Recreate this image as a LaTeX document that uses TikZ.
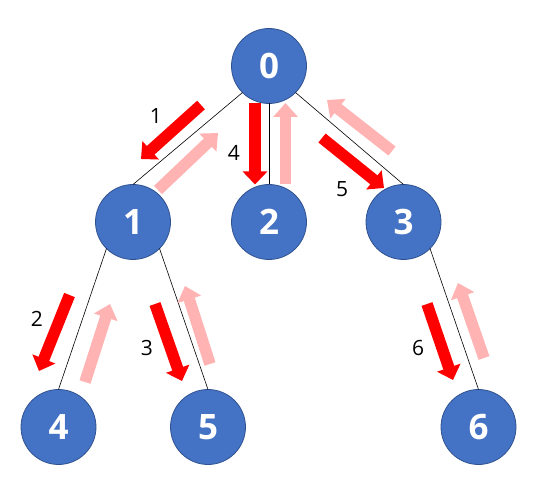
\documentclass[tikz,border=0pt]{standalone}
\usepackage{fontspec}
\setmainfont{Open Sans}
\usetikzlibrary{arrows.meta}
\definecolor{nodeblue}{HTML}{4472C4}
\definecolor{nodeedge}{HTML}{2F528F}
\definecolor{downred}{HTML}{FF0000}
\definecolor{uppink}{HTML}{FFB3B3}
\tikzset{
  treenode/.style={circle, fill=nodeblue, draw=nodeedge, line width=0.8pt, minimum size=75pt, inner sep=0pt, outer sep=0pt, text=white, font=\fontsize{35}{35}\selectfont\bfseries},
  edge/.style={draw=black, line width=0.6pt},
  downarrow/.style={draw=downred, line width=11.5pt, -{Triangle[width=24pt,length=13pt]}},
  uparrow/.style={draw=uppink, line width=11.5pt, -{Triangle[width=24pt,length=14pt]}},
  steplabel/.style={font=\fontsize{21}{21}\selectfont, text=black, inner sep=0pt}
}
\begin{document}
\begin{tikzpicture}[x=1pt,y=-1pt]
\useasboundingbox (0,0) rectangle (538,502);
% nodes
\node[treenode] (n0) at (269,66) {0};
\node[treenode] (n1) at (133,222) {1};
\node[treenode] (n2) at (269,222) {2};
\node[treenode] (n3) at (403.5,222) {3};
\node[treenode] (n4) at (58.5,427) {4};
\node[treenode] (n5) at (208,427) {5};
\node[treenode] (n6) at (478.5,427) {6};
% edges
\draw[edge] (n0.south west) -- (n1.north);
\draw[edge] (n0.south) -- (n2.north);
\draw[edge] (n0.south east) -- (n3.north);
\draw[edge] (n1.south west) -- (n4.north);
\draw[edge] (n1.south east) -- (n5.north);
\draw[edge] (n3.south east) -- (n6.north);
% arrow end coordinates
\coordinate (a1s) at (201,105);
\coordinate (a1e) at (141,159);
\coordinate (b1s) at (158,190);
\coordinate (b1e) at (218,133);
\coordinate (a4s) at (255,103);
\coordinate (a4e) at (255,184.5);
\coordinate (b4s) at (285.5,184.5);
\coordinate (b4e) at (285.5,103);
\coordinate (a5s) at (322,138);
\coordinate (a5e) at (384,188);
\coordinate (b5s) at (392,151);
\coordinate (b5e) at (327,100);
\coordinate (a2s) at (69.5,295);
\coordinate (a2e) at (39,371);
\coordinate (b2s) at (85,382);
\coordinate (b2e) at (110,304);
\coordinate (a3s) at (155,304);
\coordinate (a3e) at (182,381);
\coordinate (b3s) at (210,364);
\coordinate (b3e) at (185,286);
\coordinate (a6s) at (427,304);
\coordinate (a6e) at (453,380);
\coordinate (b6s) at (484,358);
\coordinate (b6e) at (458,283);
% arrows
\draw[downarrow] (a1s) -- (a1e);
\draw[uparrow] (b1s) -- (b1e);
\draw[downarrow] (a4s) -- (a4e);
\draw[uparrow] (b4s) -- (b4e);
\draw[downarrow] (a5s) -- (a5e);
\draw[uparrow] (b5s) -- (b5e);
\draw[downarrow] (a2s) -- (a2e);
\draw[uparrow] (b2s) -- (b2e);
\draw[downarrow] (a3s) -- (a3e);
\draw[uparrow] (b3s) -- (b3e);
\draw[downarrow] (a6s) -- (a6e);
\draw[uparrow] (b6s) -- (b6e);
% labels
\node[steplabel] (l1) at (156,116) {1};
\node[steplabel] (l4) at (234,153) {4};
\node[steplabel] (l5) at (342,189) {5};
\node[steplabel] (l2) at (37,319) {2};
\node[steplabel] (l3) at (147,348) {3};
\node[steplabel] (l6) at (418,348) {6};
\end{tikzpicture}
\end{document}
